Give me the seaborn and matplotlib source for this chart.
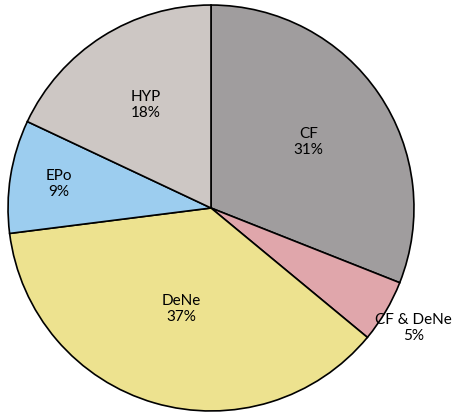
import matplotlib
matplotlib.use("Agg")
import matplotlib.pyplot as plt
import seaborn as sns
import numpy as np

sns.set_theme(style="white")
plt.rcParams['font.family'] = ['Lato', 'DejaVu Sans']

labels = ["CF", "CF & DeNe", "DeNe", "EPo", "HYP"]
values = [31, 5, 37, 9, 18]
colors = ["#a09d9e", "#e0a6ab", "#ede28f", "#9ccdef", "#cdc7c4"]
label_r = [0.58, 1.16, 0.52, 0.76, 0.6]

fig = plt.figure(figsize=(4.74, 4.18), dpi=100)
ax = fig.add_axes([6/474, 5/418, 410/474, 410/418])
wedges, _ = ax.pie(values, colors=colors, startangle=90, counterclock=False,
                   wedgeprops=dict(edgecolor="black", linewidth=1.2))
for w, lab, v, r in zip(wedges, labels, values, label_r):
    mid = np.deg2rad((w.theta1 + w.theta2) / 2)
    ax.text(r*np.cos(mid), r*np.sin(mid), f"{lab}\n{v}%", ha="center", va="center",
            fontsize=11, color="black", linespacing=1.2)
ax.set_xlim(-1.01, 1.01)
ax.set_ylim(-1.01, 1.01)
ax.set_aspect("equal")
ax.axis("off")
fig.savefig("out.png", dpi=100)
